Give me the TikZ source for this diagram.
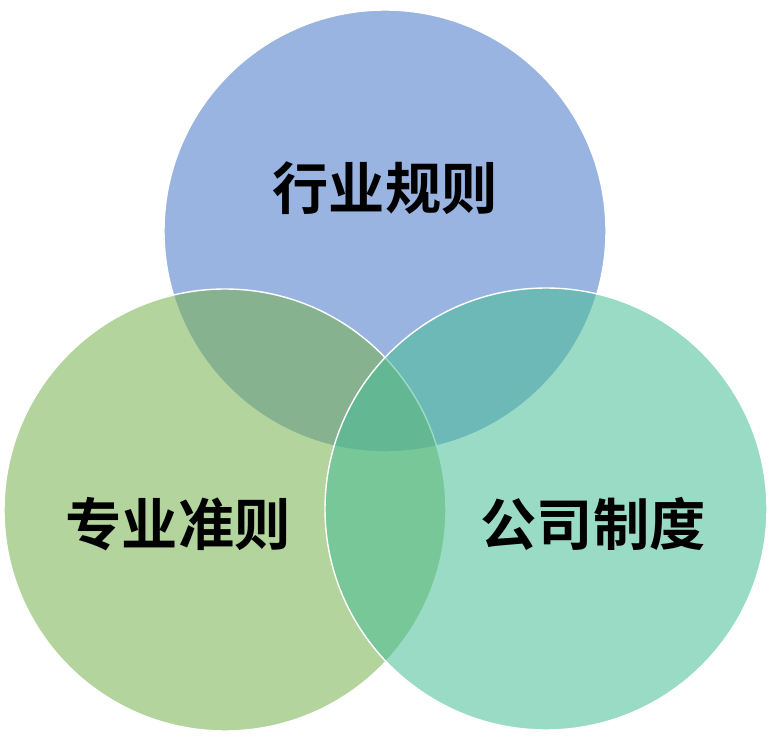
\documentclass[tikz,border=0pt]{standalone}
\usepackage{fontspec}
\newfontfamily\cjk{Noto Sans CJK SC Bold}
\begin{document}
\begin{tikzpicture}[
            x = 0.025cm, y = -0.025cm, % pixel units
            ring/.style = {draw=white, line width=1pt, fill opacity=0.55},
            caption/.style = {font=\cjk\fontsize{40}{40}\selectfont, text=black}
        ]
\useasboundingbox (0,0) rectangle (771,741);

\fill[white] (0,0) rectangle (771,741);
\path[ring, fill={rgb,255:red,70;green,120;blue,200}] (385,231) circle[radius=221];
\path[ring, fill={rgb,255:red,120;green,178;blue,80}] (225,510) circle[radius=221];
\path[ring, fill={rgb,255:red,72;green,190;blue,150}] (546,509) circle[radius=221];

\node[caption] (top) at (385,188) {行业规则};
\node[caption] (left) at (178,524) {专业准则};
\node[caption] (right) at (593,524) {公司制度};
\end{tikzpicture}
\end{document}
